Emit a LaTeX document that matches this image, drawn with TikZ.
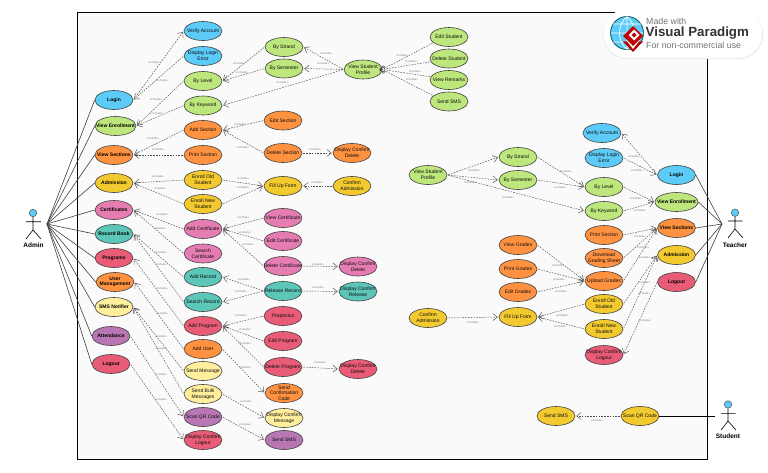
\documentclass[tikz,border=0pt]{standalone}
\usepackage{fontspec}
\setmainfont{Liberation Sans}
\usetikzlibrary{shapes.geometric,arrows.meta}
\definecolor{ucblue}{HTML}{5CCBF7}
\definecolor{ucgreen}{HTML}{BDE67C}
\definecolor{ucorange}{HTML}{FF9240}
\definecolor{ucyellow}{HTML}{F2C92E}
\definecolor{ucpink}{HTML}{E67DB2}
\definecolor{ucteal}{HTML}{5CC7B8}
\definecolor{ucred}{HTML}{E85C78}
\definecolor{uccream}{HTML}{FFEE9C}
\definecolor{ucpurple}{HTML}{B876B2}
\newcommand{\reltext}{«Include»}

\begin{document}
\begin{tikzpicture}[
			x=1pt,y=-1pt,
			uc/.style={ellipse,draw=black!75,line width=0.6pt,minimum width=38pt,minimum height=19pt,
				inner sep=-10pt,align=center,text=black!95,font=\fontsize{5}{5.6}\selectfont},
			main/.style={uc,font=\fontsize{5}{5.6}\selectfont\bfseries,text=black},
			wide/.style={minimum width=41pt},
			bl/.style={fill=ucblue},
			gr/.style={fill=ucgreen},
			or/.style={fill=ucorange},
			ye/.style={fill=ucyellow},
			pk/.style={fill=ucpink},
			te/.style={fill=ucteal},
			rd/.style={fill=ucred},
			cr/.style={fill=uccream},
			pu/.style={fill=ucpurple},
			rel/.style={draw=black!70,line width=0.45pt,dash pattern=on 1.6pt off 1.2pt,shorten >=1pt,shorten <=1pt,
				-{Straight Barb[length=4.5pt,width=7pt,line width=0.45pt]}},
			tag/.style={font=\fontsize{2.8}{3}\selectfont,text=black!50,inner sep=0pt},
			assoc/.style={draw=black!75,line width=0.6pt},
			stick/.style={draw=black,line width=0.6pt},
			head/.style={circle,draw=black!70,fill=ucblue,line width=0.5pt,minimum size=7.5pt,inner sep=0pt},
			actorname/.style={font=\fontsize{6.5}{7}\selectfont\bfseries,inner sep=0pt}]
			\useasboundingbox (0,0) rectangle (768,472);
			\draw[black,line width=0.8pt,fill=black!2] (77.5,12.5) rectangle (707,459);

			% admin side, first column
			\node[main,bl] (alogin) at (114,100) {Login};
			\node[main,gr,wide] (aenroll) at (115.5,126) {View Enrollment};
			\node[main,or] (asections) at (114,155) {View Sections};
			\node[main,ye] (aadmission) at (114,183) {Admission};
			\node[main,pk] (acert) at (114,210) {Certificates};
			\node[main,te] (arecord) at (114,234) {Record Book};
			\node[main,rd] (aprograms) at (114,258) {Programs};
			\node[main,or] (ausers) at (115,282) {User\\Management};
			\node[main,cr] (asms) at (114,307) {SMS Notifier};
			\node[main,pu] (aattend) at (111,336) {Attendance};
			\node[main,rd] (alogout) at (111,364) {Logout};

			% second column
			\node[uc,bl] (averify) at (203,31) {Verify Account};
			\node[uc,bl] (aerror) at (203,56) {Display Login\\Error};
			\node[uc,gr] (alevel) at (203,81) {By Level};
			\node[uc,gr] (akeyword) at (203,105.5) {By Keyword};
			\node[uc,or] (aaddsec) at (203,130) {Add Section};
			\node[uc,or] (aprintsec) at (203,155) {Print Section};
			\node[uc,ye] (aold) at (203,180) {Enroll Old\\Student};
			\node[uc,ye] (anew) at (203,204) {Enroll New\\Student};
			\node[uc,pk] (aaddcert) at (203,229) {Add Certificate};
			\node[uc,pk] (asearchcert) at (203,253.5) {Search\\Certificate};
			\node[uc,te] (aaddrec) at (203,277) {Add Record};
			\node[uc,te] (asearchrec) at (203,302) {Search Record};
			\node[uc,rd] (aaddprog) at (203,326) {Add Program};
			\node[uc,or] (aadduser) at (203,349) {Add User};
			\node[uc,cr] (asendmsg) at (203,371) {Send Message};
			\node[uc,cr] (abulk) at (203,394) {Send Bulk\\Messages};
			\node[uc,pu] (ascan) at (203,417) {Scan QR Code};
			\node[uc,rd] (aconfout) at (203,440) {Display Confirm\\Logout};

			% third column
			\node[uc,gr] (astrand) at (284,47) {By Strand};
			\node[uc,gr] (asem) at (284,68.5) {By Semester};
			\node[uc,or] (aeditsec) at (283,120.5) {Edit Section};
			\node[uc,or] (adelsec) at (283,153) {Delete Section};
			\node[uc,ye] (afill) at (283,186) {Fill Up Form};
			\node[uc,pk] (aviewcert) at (283,218) {View Certificate};
			\node[uc,pk] (aeditcert) at (283,241) {Edit Certificate};
			\node[uc,pk] (adelcert) at (283,266) {Delete Certificate};
			\node[uc,te] (arelease) at (283,291) {Release Record};
			\node[uc,rd] (apros) at (283,316) {Propectus};
			\node[uc,rd] (aeditprog) at (283,341) {Edit Program};
			\node[uc,rd] (adelprog) at (283,367) {Delete Program};
			\node[uc,or] (aconfcode) at (284,393) {Send\\Confirmation\\Code};
			\node[uc,cr] (aconfmsg) at (284,418) {Display Confirm\\Message};
			\node[uc,pu] (asendsms) at (284,440) {Send SMS};

			% fourth and fifth column
			\node[uc,gr] (aprofile) at (363,69.5) {View Student\\Profile};
			\node[uc,or] (aconfsec) at (352,153) {Display Confirm\\Delete};
			\node[uc,ye] (aconfadm) at (352,186) {Confirm\\Admission};
			\node[uc,pk] (aconfcert) at (358,266.5) {Display Confirm\\Delete};
			\node[uc,te] (aconfrel) at (358,291.5) {Display Confirm\\Release};
			\node[uc,rd] (aconfprog) at (358,369) {Display Confirm\\Delete};
			\node[uc,gr] (aeditst) at (449,37) {Edit Student};
			\node[uc,gr] (adelst) at (449,58.5) {Delete Student};
			\node[uc,gr] (aremarks) at (449,80) {View Remarks};
			\node[uc,gr] (asmsst) at (449,101.5) {Send SMS};

			% teacher side
			\node[uc,gr] (tprofile) at (428,175) {View Student\\Profile};
			\node[uc,ye] (tconfadm) at (428,318) {Confirm\\Admission};
			\node[uc,gr] (tstrand) at (518,157) {By Strand};
			\node[uc,gr] (tsem) at (518,180) {By Semester};
			\node[uc,or] (tviewgr) at (518,245) {View Grades};
			\node[uc,or] (tprintgr) at (518,269) {Print Grades};
			\node[uc,or] (teditgr) at (518,292) {Edit Grades};
			\node[uc,ye] (tfill) at (518,317) {Fill Up Form};
			\node[uc,bl] (tverify) at (602,133) {Verify Account};
			\node[uc,bl] (terror) at (604,158) {Display Login\\Error};
			\node[uc,gr] (tlevel) at (604,187) {By Level};
			\node[uc,gr] (tkeyword) at (604,211) {By Keyword};
			\node[uc,or] (tprintsec) at (604,235) {Print Section};
			\node[uc,or] (tdownload) at (604,258) {Download\\Grading Sheet};
			\node[uc,or] (tupload) at (604,281) {Upload Grades};
			\node[uc,ye] (told) at (604,304) {Enroll Old\\Student};
			\node[uc,ye] (tnew) at (604,329) {Enroll New\\Student};
			\node[uc,rd] (tconfout) at (604,355) {Display Confirm\\Logout};
			\node[main,bl] (tlogin) at (676.5,175) {Login};
			\node[main,gr,minimum width=43pt] (tenroll) at (676.5,202) {View Enrollment};
			\node[main,or] (tsections) at (676.5,228) {View Sections};
			\node[main,ye] (tadmission) at (676.5,255) {Admission};
			\node[main,rd] (tlogout) at (676.5,282) {Logout};

			% student side
			\node[uc,ye] (ssms) at (556,416) {Send SMS};
			\node[uc,ye] (sscan) at (640,416) {Scan QR Code};

			% admin actor
			\node[head] (adminhead) at (33,213) {};
			\draw[stick] (adminhead) -- (33,230) (26,221.7) -- (41,221.7) (26,239) -- (33,230) -- (41,239);
			\node[actorname] (adminname) at (33.5,245) {Admin};
			\coordinate (adminpt) at (47,224);
			\draw[assoc] (adminpt) -- (alogin.west);
			\draw[assoc] (adminpt) -- (aenroll.west);
			\draw[assoc] (adminpt) -- (asections.west);
			\draw[assoc] (adminpt) -- (aadmission.west);
			\draw[assoc] (adminpt) -- (acert.west);
			\draw[assoc] (adminpt) -- (arecord.west);
			\draw[assoc] (adminpt) -- (aprograms.west);
			\draw[assoc] (adminpt) -- (ausers.west);
			\draw[assoc] (adminpt) -- (asms.west);
			\draw[assoc] (adminpt) -- (aattend.west);
			\draw[assoc] (adminpt) -- (alogout.west);

			% teacher actor
			\node[head] (teacherhead) at (735,212.7) {};
			\draw[stick] (teacherhead) -- (735,229) (728,221) -- (742.5,221) (728,238) -- (735,229) -- (743,238);
			\node[actorname] (teachername) at (735,245) {Teacher};
			\coordinate (teacherpt) at (722,224);
			\draw[assoc] (teacherpt) -- (tlogin.east);
			\draw[assoc] (teacherpt) -- (tenroll.east);
			\draw[assoc] (teacherpt) -- (tsections.east);
			\draw[assoc] (teacherpt) -- (tadmission.east);
			\draw[assoc] (teacherpt) -- (tlogout.east);

			% student actor
			\node[head] (studenthead) at (728,404.5) {};
			\draw[stick] (studenthead) -- (728,421) (721,413.3) -- (735.5,413.3) (721,430) -- (728,421) -- (736,430);
			\node[actorname] (studentname) at (728,436) {Student};
			\coordinate (studentpt) at (715,416);
			\draw[stick] (studentpt) -- (sscan.east);

			% admin relations
			\draw[rel] (alogin.east) -- (averify.west) node[tag] (l1) at (154,62) {\reltext};
			\draw[rel] (aerror.west) -- (alogin.east) node[tag] (l2) at (162,80) {\reltext};
			\draw[rel] (alevel.west) -- (aenroll.east) node[tag] (l3) at (156,99) {\reltext};
			\draw[rel] (akeyword.west) -- (aenroll.east) node[tag] (l4) at (157,113) {\reltext};
			\draw[rel] (aaddsec.west) -- (asections.east) node[tag] (l5) at (153,138) {\reltext};
			\draw[rel] (aprintsec.west) -- (asections.east) node[tag] (l6) at (158,149) {\reltext};
			\draw[rel] (aold.west) -- (aadmission.east) node[tag] (l7) at (158,176) {\reltext};
			\draw[rel] (anew.west) -- (aadmission.east) node[tag] (l8) at (160,188) {\reltext};
			\draw[rel] (aaddcert.west) -- (acert.east) node[tag] (l9) at (162,214) {\reltext};
			\draw[rel] (asearchcert.west) -- (acert.east) node[tag] (l10) at (160,228) {\reltext};
			\draw[rel] (aaddrec.west) -- (arecord.east) node[tag] (l11) at (161,252) {\reltext};
			\draw[rel] (asearchrec.west) -- (arecord.east) node[tag] (l12) at (161,264) {\reltext};
			\draw[rel] (aaddprog.west) -- (aprograms.east) node[tag] (l13) at (162,288) {\reltext};
			\draw[rel] (aadduser.west) -- (ausers.east) node[tag] (l14) at (162,313) {\reltext};
			\draw[rel] (asendmsg.west) -- (asms.east) node[tag] (l15) at (161,336) {\reltext};
			\draw[rel] (abulk.west) -- (asms.east) node[tag] (l16) at (161,348) {\reltext};
			\draw[rel] (aattend.east) -- (ascan.west) node[tag] (l17) at (161,374) {\reltext};
			\draw[rel] (alogout.east) -- (aconfout.west) node[tag] (l18) at (161,399) {\reltext};
			\draw[rel] (astrand.west) -- (alevel.east) node[tag] (l19) at (239,63) {\reltext};
			\draw[rel] (asem.west) -- (alevel.east) node[tag] (l20) at (242,72) {\reltext};
			\draw[rel] (aprofile.west) -- (astrand.east) node[tag] (l21) at (326,53) {\reltext};
			\draw[rel] (aprofile.west) -- (asem.east) node[tag] (l22) at (323,63) {\reltext};
			\draw[rel] (aprofile.west) -- (akeyword.east) node[tag] (l23) at (282,82) {\reltext};
			\draw[rel,shorten >=-3pt] (aeditst.200) -- (aprofile.east) node[tag] (l24) at (402,55) {\reltext};
			\draw[rel,shorten >=-3pt] (adelst.190) -- (aprofile.east) node[tag] (l25) at (411,61) {\reltext};
			\draw[rel,shorten >=-3pt] (aremarks.170) -- (aprofile.east) node[tag] (l26) at (415,71) {\reltext};
			\draw[rel,shorten >=-3pt] (asmsst.160) -- (aprofile.east) node[tag] (l27) at (412,79) {\reltext};
			\draw[rel] (aeditsec.west) -- (aaddsec.east) node[tag] (l28) at (240,124) {\reltext};
			\draw[rel] (adelsec.west) -- (aaddsec.east) node[tag] (l29) at (243,147) {\reltext};
			\draw[rel] (adelsec.east) -- (aconfsec.west) node[tag] (l30) at (315,149) {\reltext};
			\draw[rel] (aold.east) -- (afill.west) node[tag] (l31) at (243,178) {\reltext};
			\draw[rel] (anew.east) -- (afill.west) node[tag] (l32) at (243,187) {\reltext};
			\draw[rel] (aconfadm.west) -- (afill.east) node[tag] (l33) at (317,182) {\reltext};
			\draw[rel] (aviewcert.west) -- (aaddcert.east) node[tag] (l34) at (243,217) {\reltext};
			\draw[rel] (aeditcert.west) -- (aaddcert.east) node[tag] (l35) at (245,232) {\reltext};
			\draw[rel] (adelcert.west) -- (aaddcert.east) node[tag] (l36) at (248,244) {\reltext};
			\draw[rel] (adelcert.east) -- (aconfcert.west) node[tag] (l37) at (318,264) {\reltext};
			\draw[rel] (arelease.west) -- (aaddrec.east) node[tag] (l38) at (244,279) {\reltext};
			\draw[rel] (arelease.west) -- (asearchrec.east) node[tag] (l39) at (241,291) {\reltext};
			\draw[rel] (arelease.east) -- (aconfrel.west) node[tag] (l40) at (318,287) {\reltext};
			\draw[rel] (apros.west) -- (aaddprog.east) node[tag] (l41) at (241,315) {\reltext};
			\draw[rel] (aeditprog.west) -- (aaddprog.east) node[tag] (l42) at (245,329) {\reltext};
			\draw[rel] (adelprog.west) -- (aaddprog.east) node[tag] (l43) at (245,343) {\reltext};
			\draw[rel] (adelprog.east) -- (aconfprog.west) node[tag] (l44) at (320,362.5) {\reltext};
			\draw[rel] (aadduser.east) -- (aconfcode.west) node[tag] (l45) at (245,367) {\reltext};
			\draw[rel] (abulk.east) -- (aconfmsg.west) node[tag] (l46) at (246,401) {\reltext};
			\draw[rel] (ascan.east) -- (asendsms.west) node[tag] (l47) at (245,424) {\reltext};

			% teacher relations
			\draw[rel] (tprofile.east) -- (tstrand.west) node[tag] (m1) at (474,170) {\reltext};
			\draw[rel] (tprofile.east) -- (tsem.west) node[tag] (m2) at (470,182) {\reltext};
			\draw[rel] (tprofile.east) -- (tkeyword.west) node[tag] (m3) at (508,197) {\reltext};
			\draw[rel] (tstrand.east) -- (tlevel.west) node[tag] (m4) at (566,171) {\reltext};
			\draw[rel] (tsem.east) -- (tlevel.west) node[tag] (m5) at (560,187) {\reltext};
			\draw[rel] (tlevel.east) -- (tenroll.west) node[tag] (m6) at (636,198) {\reltext};
			\draw[rel] (tkeyword.east) -- (tenroll.west) node[tag] (m7) at (640,210) {\reltext};
			\draw[rel] (tlogin.west) -- (tverify.east) node[tag] (m8) at (634,156) {\reltext};
			\draw[rel] (terror.east) -- (tlogin.west) node[tag] (m9) at (637,170) {\reltext};
			\draw[rel] (tprintsec.east) -- (tsections.west) node[tag] (m10) at (640,236) {\reltext};
			\draw[rel] (tdownload.east) -- (tsections.west) node[tag] (m11) at (643,247) {\reltext};
			\draw[rel] (tupload.east) -- (tsections.west) node[tag] (m12) at (644,257) {\reltext};
			\draw[rel] (told.east) -- (tadmission.west) node[tag] (m13) at (644,282) {\reltext};
			\draw[rel] (tnew.east) -- (tadmission.west) node[tag] (m14) at (644,293) {\reltext};
			\draw[rel] (tlogout.west) -- (tconfout.east) node[tag] (m15) at (645,320) {\reltext};
			\draw[rel] (tviewgr.east) -- (tupload.west) node[tag] (m16) at (558,265) {\reltext};
			\draw[rel] (tprintgr.east) -- (tupload.west) node[tag] (m17) at (559,279) {\reltext};
			\draw[rel] (teditgr.east) -- (tupload.west) node[tag] (m18) at (561,291) {\reltext};
			\draw[rel] (told.west) -- (tfill.east) node[tag] (m19) at (562,315) {\reltext};
			\draw[rel] (tnew.west) -- (tfill.east) node[tag] (m20) at (560,326) {\reltext};
			\draw[rel] (tconfadm.east) -- (tfill.west) node[tag] (m21) at (473,322) {\reltext};
			\draw[rel] (sscan.west) -- (ssms.east) node[tag] (m22) at (597,420) {\reltext};

			% badge
			\fill[black!8,rounded corners=24pt] (603,10) rectangle (763,59);
			\fill[white,rounded corners=24pt] (603.5,9) rectangle (762,58);
			\fill[ucblue] (627,33) circle (16.5);
			\draw[teal!70!black,line width=0.8pt] (627,33) circle (16.5);
			\draw[white,line width=0.7pt] (627,16.5) -- (627,49.5) (610.5,33) -- (643.5,33)
				(627,16.5) .. controls (617,25) and (617,41) .. (627,49.5)
				(627,16.5) .. controls (637,25) and (637,41) .. (627,49.5)
				(613,24) -- (641,24) (613,42) -- (641,42);
			\fill[red!70!black] (633,41) -- (643,41.5) -- (633,52) -- (623,41.5) -- cycle;
			\fill[white] (633,43) -- (640,40) -- (633,49) -- (626,40) -- cycle;
			\fill[red!75!black] (633,26) -- (643,36) -- (633,46) -- (623,36) -- cycle;
			\fill[white] (634,29.5) -- (639.5,35) -- (634,40.5) -- (628.5,35) -- cycle;
			\fill[red!75!black] (634,32.5) -- (636.5,35) -- (634,37.5) -- (631.5,35) -- cycle;
			\node[anchor=west,inner sep=0pt,text=black!55,font=\fontsize{8.8}{10}\selectfont] (madewith) at (646,21.5) {Made with};
			\node[anchor=west,inner sep=0pt,text=black!80,font=\fontsize{13.3}{16}\selectfont\bfseries] (vpname) at (645.5,33.5) {Visual Paradigm};
			\node[anchor=west,inner sep=0pt,text=black!55,font=\fontsize{8.8}{10}\selectfont] (vpuse) at (646,45) {For non-commercial use};
		\end{tikzpicture}
\end{document}
